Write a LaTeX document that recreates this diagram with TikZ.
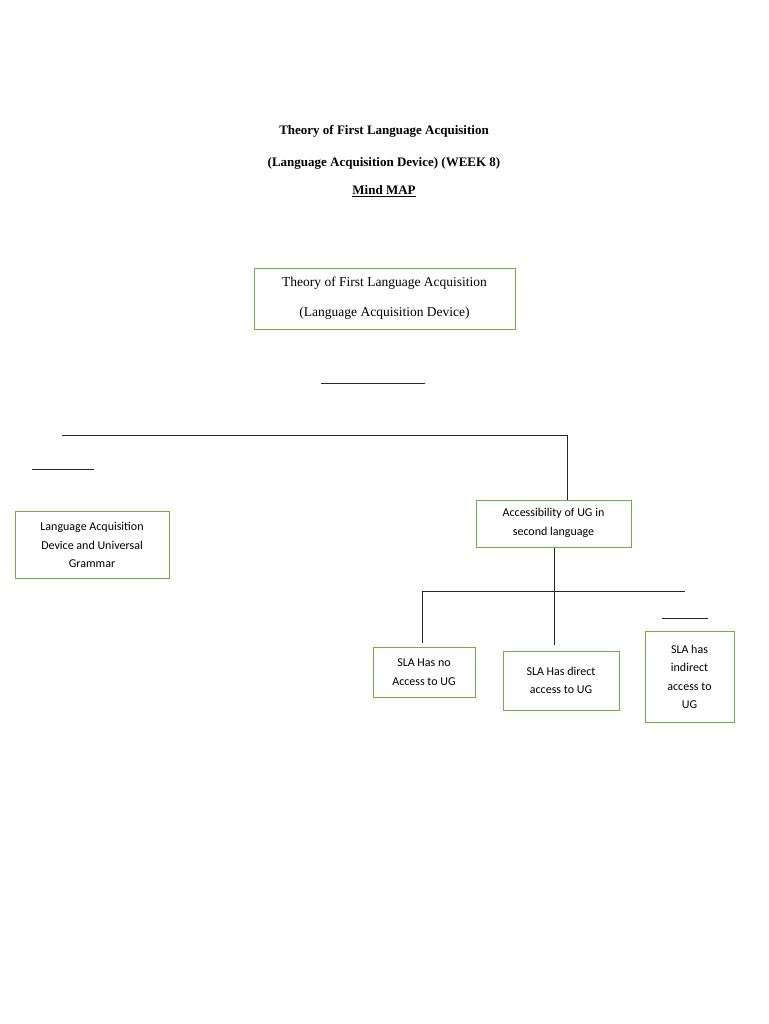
\documentclass[tikz,border=0pt]{standalone}
\usepackage{fontspec}
\setmainfont{Liberation Serif}
\newfontfamily\calfnt{Carlito}
\definecolor{bx}{RGB}{112,173,71}
\begin{document}
\begin{tikzpicture}[x=1pt,y=-1pt,
 box/.style={draw=bx,line width=1pt,align=center,inner sep=0pt},
 ln/.style={line width=0.7pt,black!85},
 tt/.style={font=\bfseries\fontsize{13}{15}\selectfont},
 cb/.style={font=\calfnt\fontsize{12}{18.5}\selectfont,align=center}]
\useasboundingbox (0,0) rectangle (768,1024);
\node[tt] (t1) at (384,131) {Theory of First Language Acquisition};
\node[tt] (t2) at (384,163) {(Language Acquisition Device) (WEEK 8)};
\node[tt] (t3) at (384,191) {\underline{Mind MAP}};
\node[box,minimum width=261pt,minimum height=61pt] (top) at (384.5,298.5) {};
\node[font=\fontsize{13.5}{15}\selectfont] (ta) at (384.5,283) {Theory of First Language Acquisition};
\node[font=\fontsize{13.5}{15}\selectfont] (tb) at (384.5,313) {(Language Acquisition Device)};
\coordinate (s1) at (321,383); \coordinate (s2) at (425,383);
\draw[ln] (s1) -- (s2);
\coordinate (h1) at (62,435); \coordinate (h2) at (567,435);
\node[box,minimum width=155pt,minimum height=47pt] (ug) at (553.5,523.5) {};
\node[cb] at (553.5,523) {Accessibility of UG in\\second language};
\draw[ln] (h1) -- (h2) -- (h2 |- ug.north);
\coordinate (s3) at (32,469); \coordinate (s4) at (94,469);
\draw[ln] (s3) -- (s4);
\node[box,minimum width=154pt,minimum height=67pt] (lad) at (92,544.5) {};
\node[cb] at (92,545) {Language Acquisition\\Device and Universal\\Grammar};
\node[box,minimum width=102pt,minimum height=50pt] (b1) at (424,672) {};
\node[cb] at (424,672) {SLA Has no\\Access to UG};
\node[box,minimum width=116pt,minimum height=59pt] (b2) at (561,680.5) {};
\node[cb] at (561,680.5) {SLA Has direct\\access to UG};
\node[box,minimum width=89pt,minimum height=91pt] (b3) at (689.5,676.5) {};
\node[cb] at (689.5,677) {SLA has\\indirect\\access to\\UG};
\coordinate (c1) at (554,645); \coordinate (c2) at (422,591); \coordinate (c3) at (685,591);
\coordinate (c4) at (422,643);
\draw[ln] (ug.south -| c1) -- (c1);
\draw[ln] (c4) -- (c2) -- (c3);
\coordinate (s5) at (662,618); \coordinate (s6) at (708,618);
\draw[ln] (s5) -- (s6);
\end{tikzpicture}
\end{document}
